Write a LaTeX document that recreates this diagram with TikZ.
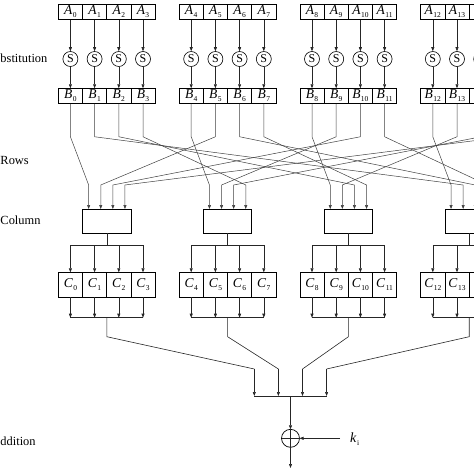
\documentclass[tikz,border=0pt]{standalone}
\usepackage{fontspec}
\setmainfont{Liberation Serif}
\usepackage{tikz}
\usetikzlibrary{
  arrows.meta,
  calc,
  positioning
}
\newcommand{\cellsub}[2]{\textit{#1}\kern0.4pt\raisebox{-0.5ex}{\fontsize{7.5}{8}\selectfont #2}}
\tikzset{
  aesline/.style={line width=0.6pt, black!85},
  aesarrow/.style={aesline, -{Triangle[length=4pt, width=3pt]}},
  shiftline/.style={line width=0.5pt, black!75, -{Triangle[length=4pt, width=3pt]}},
  cellbox/.style={
    draw, line width=0.8pt, minimum width=24.2pt, minimum height=15.5pt,
    inner sep=0pt, outer sep=0pt, font=\fontsize{13.5}{14}\selectfont
  },
  tallcell/.style={cellbox, minimum height=25pt},
  sbox/.style={draw, circle, line width=0.6pt, minimum size=15pt, inner sep=0pt, font=\fontsize{12}{12}\selectfont},
  mixbox/.style={draw, line width=0.8pt, minimum width=48.4pt, minimum height=24pt, inner sep=0pt, outer sep=0pt},
  xorbox/.style={draw, circle, line width=0.7pt, minimum size=18pt, inner sep=0pt, outer sep=0pt},
  steplabel/.style={font=\fontsize{12.4}{14}\selectfont, anchor=base west, inner sep=0pt}
}

\begin{document}
\begin{tikzpicture}[x=1pt, y=-1pt]
  \useasboundingbox (0,0) rectangle (474,474);
  \clip (0,0) rectangle (474,474);

  % round steps
  \node[steplabel] (lsub) at (0.3,62) {bstitution};
  \node[steplabel] (lrow) at (0.3,164.5) {Rows};
  \node[steplabel] (lcol) at (0.3,224) {Column};
  \node[steplabel] (ladd) at (0.3,445) {ddition};

  % state bytes
  \foreach \g in {0,...,3}{
    \foreach \c in {0,...,3}{
      \pgfmathtruncatemacro{\n}{4*\g+\c}
      \pgfmathsetmacro{\x}{70.4+120.8*\g+24.2*\c}
      \node[cellbox] (a\n) at (\x,11.75) {\ifnum\n<14 \cellsub{A}{\n}\fi};
      \node[sbox] (s\n) at (\x,59) {\ifnum\n<14 S\fi};
      \node[cellbox] (b\n) at (\x,96) {\ifnum\n<14 \cellsub{B}{\n}\fi};
      \node[tallcell] (c\n) at (\x,284.8) {\ifnum\n<14 \cellsub{C}{\n}\fi};
      \draw[aesarrow] (a\n.south) -- (s\n.north);
      \draw[aesarrow] (s\n.south) -- (b\n.north);
    }
    \pgfmathsetmacro{\mx}{106.8+120.8*\g}
    \node[mixbox] (m\g) at (\mx,221) {};
    \coordinate (mt\g) at (\mx,245);
    \coordinate (ct\g) at (\mx,317.7);
    \coordinate (cb\g) at (\mx,336.7);
    \coordinate (f\g) at (254.3+24.1*\g,369);
  }

  % shift rows
  \foreach \j in {0,...,3}{
    \foreach \r in {0,...,3}{
      \pgfmathtruncatemacro{\n}{mod(4*(\j+\r)+\r,16)}
      \pgfmathsetmacro{\xin}{106.8+120.8*\j+12.1*(\r-1.5)}
      \coordinate (mi\j\r) at (\xin,185);
      \draw[shiftline] (b\n.south) -- ++(0,33) -- (mi\j\r) -- (mi\j\r |- m\j.north);
    }
  }

  % mix column fan out and collect
  \foreach \g in {0,...,3}{
    \pgfmathtruncatemacro{\first}{4*\g}
    \pgfmathtruncatemacro{\last}{4*\g+3}
    \draw[aesline] (m\g.south) -- (mt\g);
    \draw[aesline] (c\first |- mt\g) -- (c\last |- mt\g);
    \draw[aesline] (c\first |- ct\g) -- (c\last |- ct\g);
    \foreach \c in {0,...,3}{
      \pgfmathtruncatemacro{\n}{4*\g+\c}
      \draw[aesarrow] (c\n |- mt\g) -- (c\n.north);
      \draw[aesarrow] (c\n.south) -- (c\n |- ct\g);
    }
    \draw[aesline] (ct\g) -- (cb\g) -- (f\g);
  }

  % key addition
  \coordinate (join) at (290.5,396);
  \node[xorbox] (xor) at (290.5,438.3) {};
  \draw[aesline] (xor.north) -- (xor.south) (xor.west) -- (xor.east);
  \foreach \g in {0,...,3}{
    \draw[aesarrow] (f\g) -- (f\g |- join);
  }
  \draw[aesline] (f0 |- join) -- (f3 |- join);
  \draw[aesarrow] (join) -- (xor.north);
  \coordinate (out) at (290.5,468);
  \draw[aesarrow] (xor.south) -- (out);
  \coordinate (kin) at (340,438.3);
  \draw[aesarrow] (kin) -- (xor.east);
  \node[font=\fontsize{14}{14}\selectfont, anchor=west, inner sep=0pt] (key) at (350,439) {\cellsub{k}{i}};
\end{tikzpicture}
\end{document}
